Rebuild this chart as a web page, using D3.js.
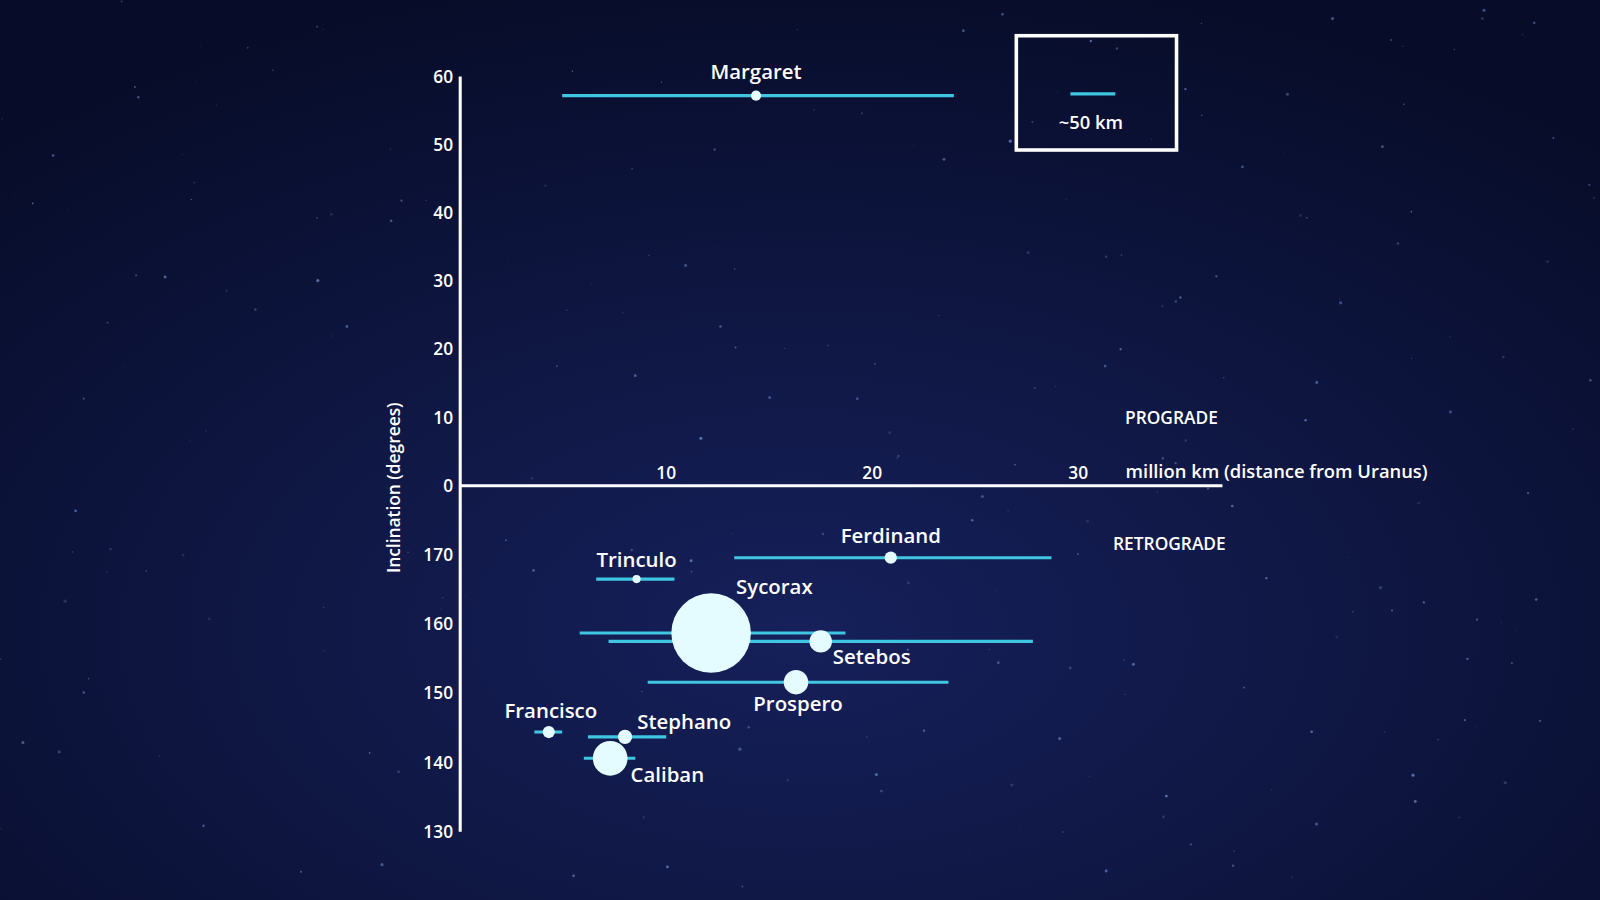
<!DOCTYPE html>
<html><head><meta charset="utf-8">
<script src="https://cdn.jsdelivr.net/npm/d3@7"></script>
<style>
html,body{margin:0;padding:0;background:#0a1030;}
svg{display:block;font-family:"Open Sans",sans-serif;font-weight:600;}
</style></head>
<body>
<svg id="chart" width="1600" height="900" viewBox="0 0 1568 882"></svg>
<script>
// moons: name, mean distance (million km), min/max distance, inclination (deg), dot radius (px)
var names    = ["Margaret","Ferdinand","Trinculo","Sycorax","Setebos","Prospero","Francisco","Stephano","Caliban"];
var distance = [14.36, 20.9, 8.56, 12.18, 17.5, 16.3, 4.3, 8.0, 7.28];
var distMin  = [4.95, 13.3, 6.6, 5.8, 7.2, 9.1, 3.6, 6.2, 6.0];
var distMax  = [23.96, 28.7, 10.4, 18.7, 27.8, 23.7, 4.95, 10.0, 8.5];
var incl     = [57.2, 169.6, 166.5, 158.7, 157.5, 151.6, 144.4, 143.7, 140.6];
var radius   = [5, 6, 4, 39, 11, 12, 6, 7, 17];
// label offsets [dx, dy] from the dot
var labelOff = [[0,-16],[0,-14],[0,-12],[62,-38],[50,22],[2,28],[2,-14],[58,-8],[56,23]];
var progradeTicks = [0,10,20,30,40,50,60];
var retroTicks    = [170,160,150,140,130];
var xTicks        = [10,20,30];

var svg = d3.select("#chart");
var W = 1568, H = 882;

var defs = svg.append("defs");
var grad = defs.append("radialGradient").attr("id","bg").attr("cx","50%").attr("cy","70%").attr("r","75%");
grad.append("stop").attr("offset","0%").attr("stop-color","#16205a");
grad.append("stop").attr("offset","100%").attr("stop-color","#070c28");
svg.append("rect").attr("width",W).attr("height",H).attr("fill","url(#bg)");

// faint background stars (deterministic)
var seed = 7;
function lcg(){ seed = (seed*16807) % 2147483647; return seed/2147483647; }
var stars = d3.range(260).map(function(){ return [lcg()*W, lcg()*H, lcg()*1.3+0.3, lcg()*0.5+0.15]; });
svg.append("g").selectAll("circle").data(stars).enter().append("circle")
  .attr("cx",function(d){return d[0];}).attr("cy",function(d){return d[1];})
  .attr("r",function(d){return d[2];}).attr("fill","#7f9ad8").attr("opacity",function(d){return d[3];});

var x = d3.scaleLinear().domain([0,37]).range([451,1198]);
var yPro = d3.scaleLinear().domain([0,60]).range([476,75]);
var yRet = d3.scaleLinear().domain([180,130]).range([476,815]);
function yOf(i){ return incl[i] > 90 ? yRet(incl[i]) : yPro(incl[i]); }

var white = "#ffffff";
// axes
svg.append("line").attr("x1",451).attr("x2",451).attr("y1",yPro(60)).attr("y2",yRet(130))
  .attr("stroke",white).attr("stroke-width",3);
svg.append("line").attr("x1",x(0)).attr("x2",x(37)).attr("y1",476).attr("y2",476)
  .attr("stroke",white).attr("stroke-width",3);

var ty = svg.append("g").attr("fill",white).attr("font-size",17).attr("text-anchor","end");
ty.selectAll("text.p").data(progradeTicks).enter().append("text").attr("class","p")
  .attr("x",444).attr("y",function(d){return yPro(d)+6;}).text(function(d){return d;});
ty.selectAll("text.r").data(retroTicks).enter().append("text").attr("class","r")
  .attr("x",444).attr("y",function(d){return yRet(d)+6;}).text(function(d){return d;});
svg.append("g").attr("fill",white).attr("font-size",17).attr("text-anchor","middle")
  .selectAll("text").data(xTicks).enter().append("text")
  .attr("x",function(d){return x(d);}).attr("y",469).text(function(d){return d;});

svg.append("text").attr("x",1103).attr("y",468).attr("fill",white).attr("font-size",18)
  .text("million km (distance from Uranus)");
svg.append("text").attr("transform","translate(392,478) rotate(-90)").attr("text-anchor","middle")
  .attr("fill",white).attr("font-size",17).text("Inclination (degrees)");
svg.append("text").attr("x",1148).attr("y",416).attr("text-anchor","middle").attr("fill",white)
  .attr("font-size",17).text("PROGRADE");
svg.append("text").attr("x",1146).attr("y",539).attr("text-anchor","middle").attr("fill",white)
  .attr("font-size",17).text("RETROGRADE");

// moons
var cyan = "#3ec6e2", dot = "#e4fbff";
var idx = d3.range(names.length);
svg.append("g").selectAll("line").data(idx).enter().append("line")
  .attr("x1",function(i){return x(distMin[i]);}).attr("x2",function(i){return x(distMax[i]);})
  .attr("y1",yOf).attr("y2",yOf).attr("stroke",cyan).attr("stroke-width",3);
svg.append("g").selectAll("circle").data(idx).enter().append("circle")
  .attr("cx",function(i){return x(distance[i]);}).attr("cy",yOf)
  .attr("r",function(i){return radius[i];}).attr("fill",dot);
svg.append("g").selectAll("text").data(idx).enter().append("text")
  .attr("x",function(i){return x(distance[i])+labelOff[i][0];})
  .attr("y",function(i){return yOf(i)+labelOff[i][1];})
  .attr("text-anchor","middle").attr("fill",white).attr("font-size",20)
  .text(function(i){return names[i];});

// legend
svg.append("rect").attr("x",996).attr("y",35).attr("width",157).attr("height",112)
  .attr("fill","none").attr("stroke",white).attr("stroke-width",3.5);
svg.append("line").attr("x1",1049).attr("x2",1093).attr("y1",92).attr("y2",92)
  .attr("stroke",cyan).attr("stroke-width",3);
svg.append("text").attr("x",1069).attr("y",126).attr("text-anchor","middle").attr("fill",white)
  .attr("font-size",18).text("~50 km");
</script>
</body></html>
